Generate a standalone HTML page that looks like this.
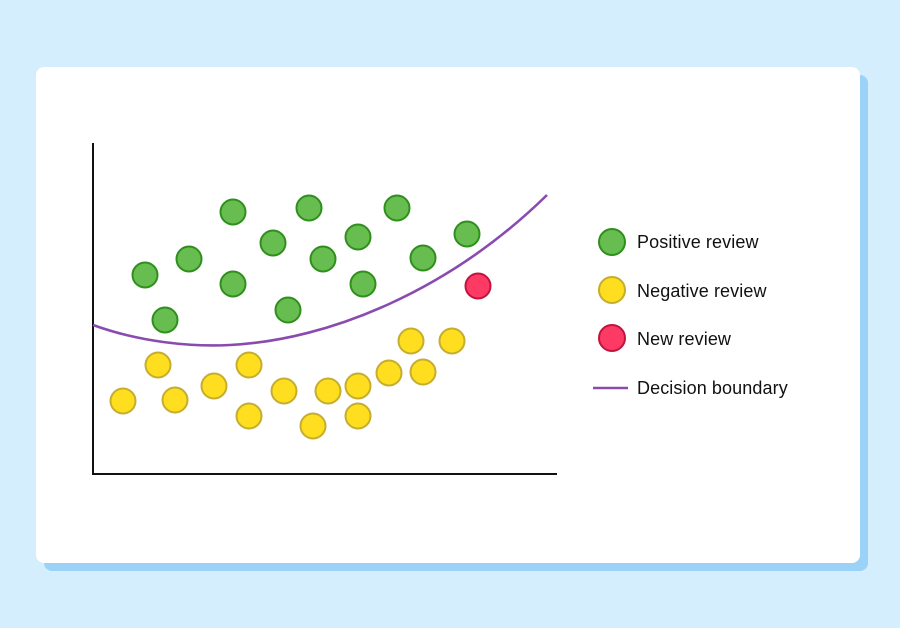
<!DOCTYPE html>
<html><head><style>
html,body{margin:0;padding:0;width:900px;height:628px;background:#d4eefe;overflow:hidden}
.sh{position:absolute;left:44px;top:75px;width:824px;height:496px;background:#9bd2f7;border-radius:8px}
.card{position:absolute;left:36px;top:67px;width:824px;height:496px;background:#fff;border-radius:8px}
svg{position:absolute;left:0;top:0}
text{font-family:"Liberation Sans",sans-serif;font-size:18px;fill:#111;letter-spacing:0.1px}
</style></head><body>
<div class="sh"></div><div class="card"></div>
<svg width="900" height="628">
<g stroke="#111" stroke-width="2" fill="none"><path d="M93 143 V474 H557"/></g>
<path d="M93 325 C140 342 190 347 230 345 C330 340 450 290 547 195" stroke="#8a4bb0" stroke-width="2.6" fill="none"/>
<g fill="#67bd4f" stroke="#2f8f1c" stroke-width="2">
<circle cx="233" cy="212" r="12.5"/><circle cx="309" cy="208" r="12.5"/><circle cx="397" cy="208" r="12.5"/>
<circle cx="273" cy="243" r="12.5"/><circle cx="358" cy="237" r="12.5"/><circle cx="467" cy="234" r="12.5"/>
<circle cx="189" cy="259" r="12.5"/><circle cx="323" cy="259" r="12.5"/><circle cx="423" cy="258" r="12.5"/>
<circle cx="145" cy="275" r="12.5"/><circle cx="233" cy="284" r="12.5"/><circle cx="363" cy="284" r="12.5"/>
<circle cx="288" cy="310" r="12.5"/><circle cx="165" cy="320" r="12.5"/>
<circle cx="612" cy="242" r="13"/>
</g>
<g fill="#fede1f" stroke="#c5ad2e" stroke-width="2">
<circle cx="158" cy="365" r="12.5"/><circle cx="249" cy="365" r="12.5"/><circle cx="411" cy="341" r="12.5"/>
<circle cx="452" cy="341" r="12.5"/><circle cx="123" cy="401" r="12.5"/><circle cx="175" cy="400" r="12.5"/>
<circle cx="214" cy="386" r="12.5"/><circle cx="284" cy="391" r="12.5"/><circle cx="328" cy="391" r="12.5"/>
<circle cx="358" cy="386" r="12.5"/><circle cx="389" cy="373" r="12.5"/><circle cx="423" cy="372" r="12.5"/>
<circle cx="249" cy="416" r="12.5"/><circle cx="313" cy="426" r="12.5"/><circle cx="358" cy="416" r="12.5"/>
<circle cx="612" cy="290" r="13"/>
</g>
<g fill="#fc3a63" stroke="#c0143f" stroke-width="2">
<circle cx="478" cy="286" r="12.5"/><circle cx="612" cy="338" r="13"/>
</g>
<line x1="593" y1="388" x2="628" y2="388" stroke="#8a4bb0" stroke-width="2.6"/>
<text x="637" y="248">Positive review</text>
<text x="637" y="297">Negative review</text>
<text x="637" y="345">New review</text>
<text x="637" y="394">Decision boundary</text>
</svg>
</body></html>
